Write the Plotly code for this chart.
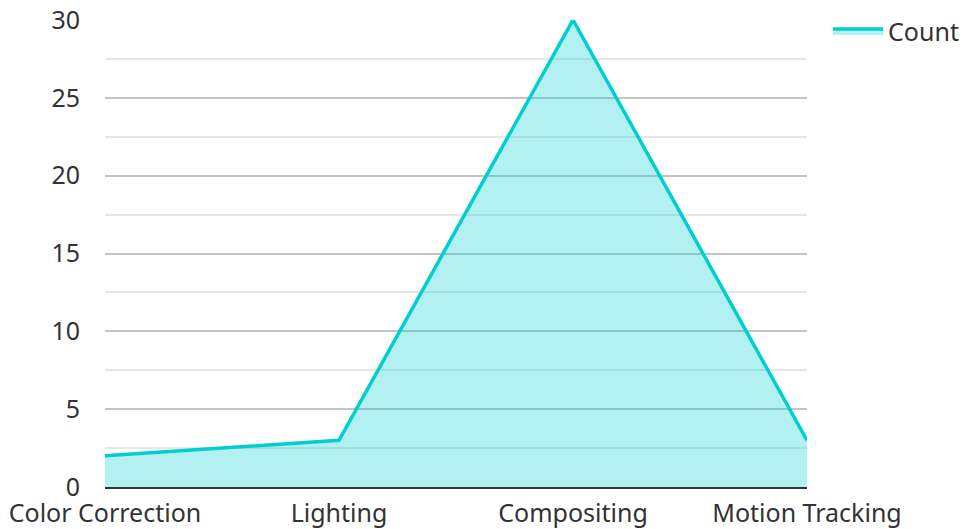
import plotly.graph_objects as go

categories = ["Color Correction", "Lighting", "Compositing", "Motion Tracking"]
counts = [2, 3, 30, 3]
y_ticks = [0, 5, 10, 15, 20, 25, 30]

font_family = "Noto Sans, Open Sans, sans-serif"
text_color = "#333333"
font_size = 25

fig = go.Figure()
fig.add_trace(go.Scatter(
    x=categories,
    y=counts,
    name="Count",
    mode="lines",
    line=dict(color="#00CED1", width=3.5),
    fill="tozeroy",
    fillcolor="rgba(0,206,209,0.3)",
))

fig.update_layout(
    width=964,
    height=529,
    margin=dict(l=105, r=157, t=20, b=42, autoexpand=False),
    paper_bgcolor="white",
    plot_bgcolor="white",
    font=dict(family=font_family, size=font_size, color=text_color),
    showlegend=True,
    legend=dict(
        x=1.03, y=1.025, xanchor="left", yanchor="top",
        font=dict(size=font_size, color=text_color),
        bgcolor="rgba(0,0,0,0)",
        itemwidth=50,
    ),
    xaxis=dict(
        type="category",
        range=[0, 3],
        automargin=False,
        showgrid=False,
        showline=True,
        linecolor="#333333",
        linewidth=2,
        ticks="",
        ticklabelstandoff=3,
        tickfont=dict(size=font_size, color=text_color),
    ),
    yaxis=dict(
        range=[0, 30],
        tickvals=y_ticks,
        automargin=False,
        showgrid=True,
        gridcolor="#c4c4c4",
        gridwidth=1.5,
        zeroline=False,
        showline=False,
        ticks="",
        ticklabelstandoff=24,
        tickfont=dict(size=font_size, color=text_color),
        minor=dict(dtick=2.5, showgrid=True, gridcolor="#e6e6e6", gridwidth=1.5),
    ),
)

fig.write_html("out.html")
